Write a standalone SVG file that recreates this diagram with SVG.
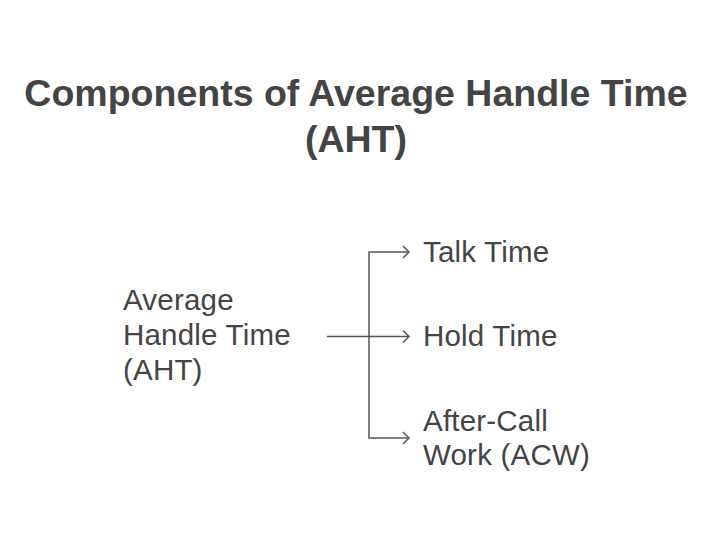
<svg xmlns="http://www.w3.org/2000/svg" width="720" height="546" viewBox="0 0 720 546">
  <style>
    .title { font-family: "Liberation Sans", Arial, sans-serif; font-weight: bold; font-size: 37.5px; fill: #444444; }
    .label { font-family: "Liberation Sans", Arial, sans-serif; font-size: 29.5px; letter-spacing: 0.2px; fill: #444444; }
    .conn { fill: none; stroke: #555555; stroke-width: 1.5; }
  </style>
  <defs>
    <marker id="arrow" markerUnits="userSpaceOnUse" markerWidth="12" markerHeight="14" refX="10" refY="7" orient="auto">
      <path d="M4,1 L10,7 L4,13" fill="none" stroke="#555555" stroke-width="1.5"/>
    </marker>
  </defs>
  <rect width="720" height="546" fill="#ffffff"/>
  <g id="title">
    <text class="title" x="356" y="106" text-anchor="middle">Components of Average Handle Time</text>
    <text class="title" x="356" y="152" text-anchor="middle">(AHT)</text>
  </g>
  <g id="connectors">
    <line class="conn" x1="327" y1="336.5" x2="409" y2="336.5" marker-end="url(#arrow)"/>
    <path class="conn" d="M369,337 V252 H409" marker-end="url(#arrow)"/>
    <path class="conn" d="M369,337 V438 H409" marker-end="url(#arrow)"/>
  </g>
  <g id="aht">
    <text class="label" x="123" y="310">Average</text>
    <text class="label" x="123" y="345">Handle Time</text>
    <text class="label" x="123" y="380">(AHT)</text>
  </g>
  <g id="talk">
    <text class="label" x="423" y="262">Talk Time</text>
  </g>
  <g id="hold">
    <text class="label" x="423" y="346">Hold Time</text>
  </g>
  <g id="acw">
    <text class="label" x="423" y="431">After-Call</text>
    <text class="label" x="423" y="465">Work (ACW)</text>
  </g>
</svg>
